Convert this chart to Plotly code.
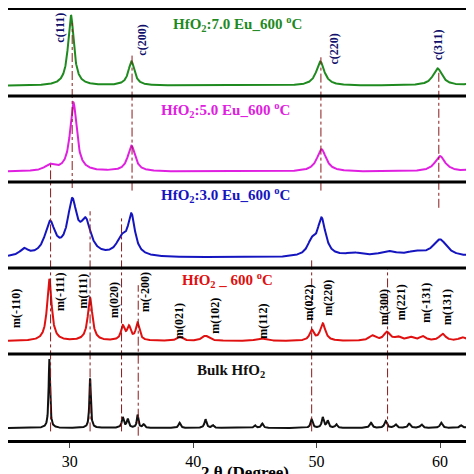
import numpy as np
import plotly.graph_objects as go

# peak lists per panel: (position, height, half width) ; height in panel units
bulk_peaks = [(28.35, 0.80, 0.07), (31.65, 0.58, 0.07), (34.3, 0.12, 0.1), (34.7, 0.1, 0.1),
              (35.5, 0.15, 0.08), (36.0, 0.04, 0.1), (38.9, 0.06, 0.1), (41.0, 0.1, 0.1),
              (41.6, 0.03, 0.1), (45.0, 0.03, 0.1), (45.6, 0.05, 0.1), (49.6, 0.1, 0.1),
              (50.5, 0.12, 0.1), (50.9, 0.08, 0.1), (51.6, 0.04, 0.1), (54.4, 0.06, 0.12),
              (55.6, 0.08, 0.12), (56.4, 0.04, 0.12), (57.5, 0.05, 0.12), (58.5, 0.04, 0.12),
              (60.1, 0.06, 0.12), (61.7, 0.03, 0.12), (62.6, 0.04, 0.12), (63.3, 0.06, 0.12)]
red_peaks = [(28.35, 0.72, 0.22), (31.65, 0.5, 0.22), (34.3, 0.16, 0.18), (34.8, 0.15, 0.18),
             (35.5, 0.2, 0.18), (38.9, 0.05, 0.25), (41.0, 0.06, 0.35), (45.5, 0.03, 0.5),
             (49.6, 0.12, 0.2), (50.5, 0.2, 0.25), (54.5, 0.06, 0.3), (55.7, 0.1, 0.3),
             (56.6, 0.04, 0.3), (57.6, 0.04, 0.3), (58.6, 0.05, 0.3), (60.2, 0.08, 0.3),
             (61.8, 0.04, 0.3), (63.0, 0.04, 0.3)]
blue_peaks = [(26.3, 0.08, 0.4), (28.4, 0.38, 0.5), (30.2, 0.6, 0.45), (31.3, 0.36, 0.5),
              (34.2, 0.18, 0.5), (35.0, 0.45, 0.35), (49.6, 0.15, 0.4), (50.4, 0.43, 0.4),
              (53.0, 0.04, 0.8), (55.8, 0.06, 0.9), (58.0, 0.05, 0.8), (60.0, 0.2, 0.7),
              (63.2, 0.05, 0.5)]
magenta_peaks = [(28.4, 0.07, 0.5), (30.3, 0.8, 0.32), (35.0, 0.3, 0.35), (50.4, 0.26, 0.45),
                 (60.0, 0.18, 0.5), (63.0, 0.04, 0.5)]
green_peaks = [(30.1, 0.82, 0.28), (35.0, 0.28, 0.3), (50.3, 0.28, 0.4), (59.8, 0.2, 0.45),
               (63.0, 0.05, 0.45)]

baselines = [0.14, 0.15, 0.12, 0.12, 0.12]
panels = [("Bulk HfO<sub>2</sub>", "#111111", bulk_peaks, 43.1, 0.8),
          ("HfO<sub>2</sub> _ 600 <sup>o</sup>C", "#e01010", red_peaks, 42.8, 1.86),
          ("HfO<sub>2</sub>:3.0 Eu_600 <sup>o</sup>C", "#1515c0", blue_peaks, 42.6, 2.85),
          ("HfO<sub>2</sub>:5.0 Eu_600 <sup>o</sup>C", "#e020e0", magenta_peaks, 42.6, 3.84),
          ("HfO<sub>2</sub>:7.0 Eu_600 <sup>o</sup>C", "#1f8a1f", green_peaks, 43.6, 4.84)]

# reference lines: position, y from, y to
ref_lines = [(28.45, 0.1, 3.22), (30.2, 2.93, 4.85), (31.65, 0.1, 2.66), (34.2, 0.1, 2.6),
             (35.05, 2.9, 4.5), (35.55, 0.05, 1.8), (49.6, 0.1, 2.1), (50.35, 2.9, 4.45),
             (55.75, 0.1, 2.0), (59.9, 2.7, 4.3), (62.85, 2.6, 4.2)]

c_labels = ["c(111)", "c(200)", "c(220)", "c(311)", "c(222)"]
c_x = [29.25, 35.9, 51.4, 59.9, 63.1]
c_y = [4.8, 4.65, 4.55, 4.6, 4.5]
m_labels = ["m(-110)", "m(-111)", "m(111)", "m(020)", "m(-200)", "m(021)", "m(102)", "m(112)",
            "m(022)", "m(220)", "m(300)", "m(221)", "m(-131)", "m(131)", "m(231)"]
m_x = [25.7, 29.2, 31.1, 33.6, 36.1, 38.9, 41.8, 45.7, 49.4, 50.9, 55.4, 56.9, 58.9, 60.5, 63.4]
m_y = [1.53, 1.73, 1.73, 1.63, 1.72, 1.38, 1.45, 1.38, 1.6, 1.65, 1.55, 1.6, 1.6, 1.55, 1.5]

x = np.linspace(25, 63.5, 2000)
font = "Liberation Serif"

fig = go.Figure()
for i, (name, color, peaks, tx, ty) in enumerate(panels):
    y = np.full_like(x, i + baselines[i])
    for p, h, w in peaks:
        y = y + h * w**2 / ((x - p)**2 + w**2)
    fig.add_trace(go.Scatter(x=x, y=y, mode="lines", line=dict(color=color, width=2), showlegend=False))
    fig.add_annotation(x=tx, y=ty, text="<b>" + name + "</b>", showarrow=False,
                       font=dict(family=font, size=15, color=color))

for xp, y0, y1 in ref_lines:
    fig.add_shape(type="line", x0=xp, x1=xp, y0=y0, y1=y1,
                  line=dict(color="#8b1a1a", width=1, dash="dashdot"))

for k in range(1, 5):
    fig.add_shape(type="line", xref="paper", x0=0, x1=1, y0=k, y1=k, line=dict(color="black", width=3))

for t, xx, yy in zip(c_labels, c_x, c_y):
    fig.add_annotation(x=xx, y=yy, text="<b>" + t + "</b>", textangle=-90, showarrow=False,
                       font=dict(family=font, size=12, color="#10106a"))
for t, xx, yy in zip(m_labels, m_x, m_y):
    fig.add_annotation(x=xx, y=yy, text="<b>" + t + "</b>", textangle=-90, showarrow=False,
                       font=dict(family=font, size=12, color="black"))

fig.update_xaxes(range=[25, 63.4], tickvals=[30, 40, 50, 60], ticks="outside", ticklen=5,
                 showgrid=False, zeroline=False, showline=True, linecolor="black", linewidth=3,
                 mirror=True, automargin=False, tickfont=dict(family=font, size=16, color="black"),
                 title=dict(text="<b>2 θ (Degree)</b>", font=dict(family=font, size=17, color="black"),
                            standoff=0))
fig.update_yaxes(range=[0, 5], showticklabels=False, showgrid=False, zeroline=False, automargin=False)
fig.update_layout(width=474, height=474, margin=dict(l=0, r=0, t=2, b=42),
                  plot_bgcolor="white", paper_bgcolor="white")
fig.write_html("out.html")
